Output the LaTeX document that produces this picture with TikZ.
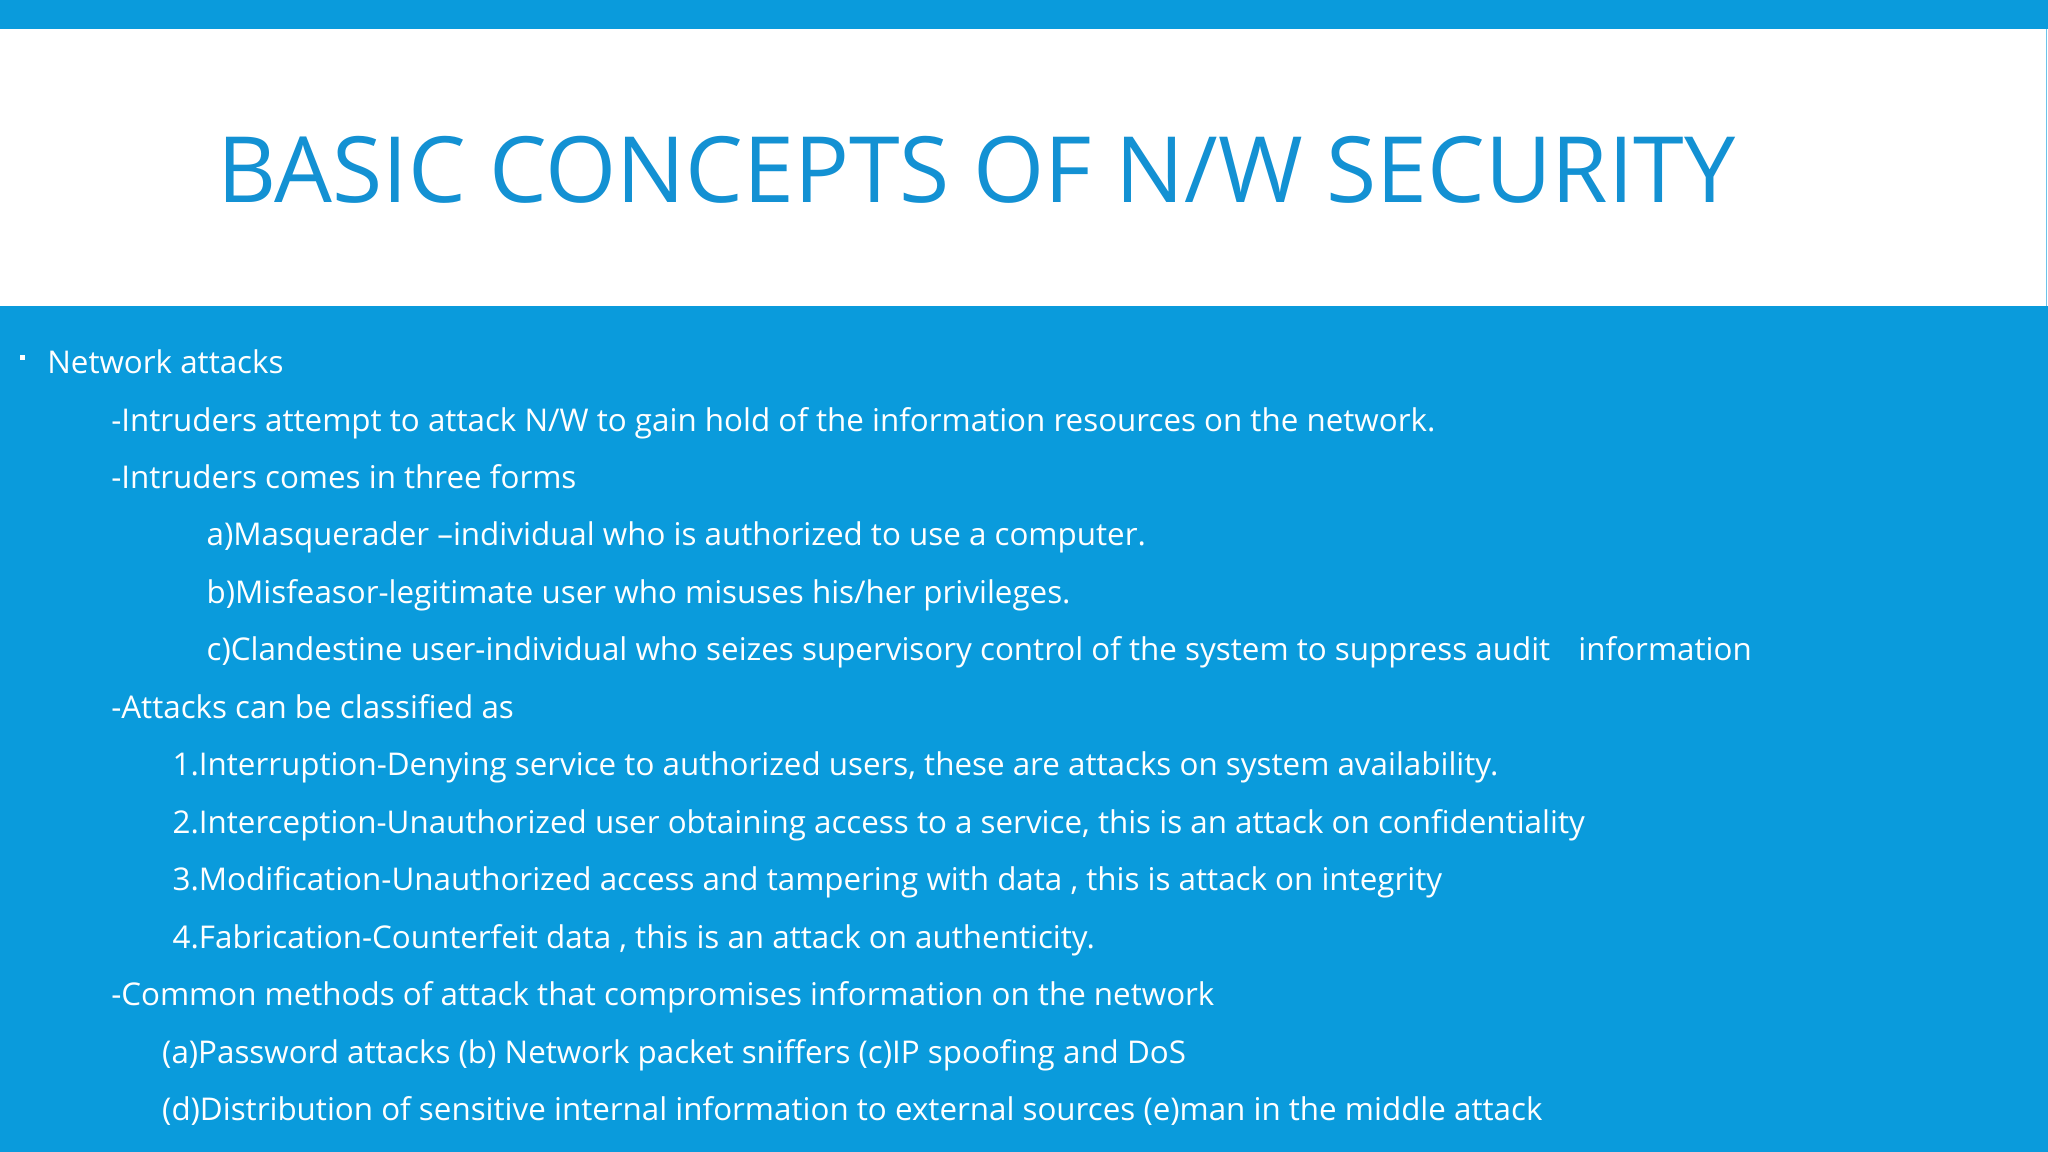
\documentclass[tikz,border=0pt]{standalone}
\usepackage{fontspec}
\setmainfont{Open Sans}
\definecolor{sblue}{HTML}{0A9BDC}
\definecolor{tblue}{HTML}{1391D3}
\begin{document}
\begin{tikzpicture}[x=1pt,y=1pt,
  ln/.style={anchor=base west,inner sep=0pt,text=white,font=\fontsize{24}{28}\selectfont}]
\useasboundingbox (0,0) rectangle (1568,-882);
\fill[sblue] (0,0) rectangle (1568,-22);
\fill[white] (0,-22) rectangle (1568,-234);
\fill[sblue] (0,-234) rectangle (1568,-882);
\draw[sblue!60,line width=1pt] (1567,-22) -- (1567,-234);
\node[anchor=base west,inner sep=0pt,text=tblue,font=\fontsize{70}{80}\selectfont] (title) at (166,-155) {BASIC CONCEPTS OF N/W SECURITY};
\fill[white] (15,-272) rectangle (19,-276);
\node[ln] (l1) at (36,-286) {Network attacks};
\node[ln] (l2) at (85,-330) {-Intruders attempt to attack N/W to gain hold of the information resources on the network.};
\node[ln] (l3) at (85,-374) {-Intruders comes in three forms};
\node[ln] (l4) at (158,-418) {a)Masquerader –individual who is authorized to use a computer.};
\node[ln] (l5) at (158,-462) {b)Misfeasor-legitimate user who misuses his/her privileges.};
\node[ln] (l6) at (158,-506) {c)Clandestine user-individual who seizes supervisory control of the system to suppress audit\hspace{0.9em}information};
\node[ln] (l7) at (85,-550) {-Attacks can be classified as};
\node[ln] (l8) at (132,-594) {1.Interruption-Denying service to authorized users, these are attacks on system availability.};
\node[ln] (l9) at (132,-638) {2.Interception-Unauthorized user obtaining access to a service, this is an attack on confidentiality};
\node[ln] (l10) at (132,-682) {3.Modification-Unauthorized access and tampering with data , this is attack on integrity};
\node[ln] (l11) at (132,-726) {4.Fabrication-Counterfeit data , this is an attack on authenticity.};
\node[ln] (l12) at (85,-770) {-Common methods of attack that compromises information on the network};
\node[ln] (l13) at (124,-814) {(a)Password attacks (b) Network packet sniffers (c)IP spoofing and DoS};
\node[ln] (l14) at (124,-858) {(d)Distribution of sensitive internal information to external sources (e)man in the middle attack};
\end{tikzpicture}
\end{document}
